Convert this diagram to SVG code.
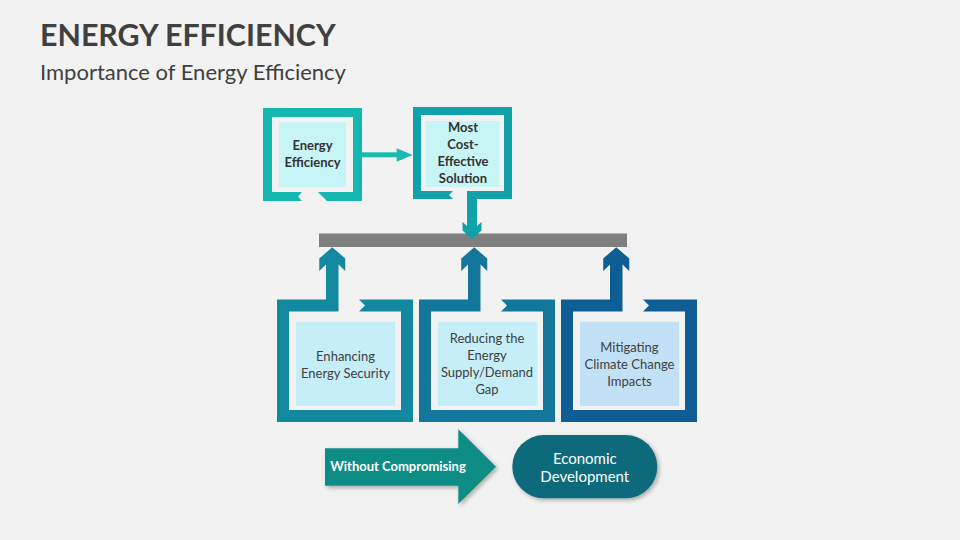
<svg xmlns="http://www.w3.org/2000/svg" width="960" height="540" viewBox="0 0 960 540">
<defs>
<style>
.title{font-family:Lato,"Open Sans","Liberation Sans",sans-serif;font-weight:bold;font-size:30.4px;fill:#404040}
.sub{font-family:Lato,"Open Sans","Liberation Sans",sans-serif;font-size:22px;fill:#404040}
.tb{font-family:Lato,"Open Sans","Liberation Sans",sans-serif;font-weight:bold;font-size:13px;fill:#333333;text-anchor:middle}
.tr{font-family:Lato,"Open Sans","Liberation Sans",sans-serif;font-size:13px;fill:#404040;text-anchor:middle}
.tw{font-family:Lato,"Open Sans","Liberation Sans",sans-serif;font-size:15px;fill:#ffffff;text-anchor:middle}
.twb{font-family:Lato,"Open Sans","Liberation Sans",sans-serif;font-weight:bold;font-size:13px;fill:#ffffff;text-anchor:middle}
</style>
<path id="bframe" d="M61.5,311.5 L12,311.5 L12,410 L124,410 L124,311.5 L82,311.5 L88,305.5 L82,299.5 L136,299.5 L136,422 L0,422 L0,299.5 L49,299.5 L49,264.5 L42.25,271 L42.25,258.5 L55.25,247.3 L68.25,258.5 L68.25,271 L61.5,264.5 Z"/>
<filter id="sh" x="-10%" y="-10%" width="130%" height="140%">
<feDropShadow dx="2" dy="2" stdDeviation="2" flood-color="#000" flood-opacity="0.3"/>
</filter>
</defs>
<rect width="960" height="540" fill="#f2f2f2"/>
<text class="title" x="40" y="46">ENERGY EFFICIENCY</text>
<text class="sub" x="40" y="80">Importance of Energy Efficiency</text>

<g id="connectors">
<rect x="319" y="233.5" width="308" height="13.5" fill="#7f7f7f"/>
<rect x="362" y="152.3" width="36" height="5" fill="#19bbb1"/>
<polygon points="396.7,148.3 412.7,155 396.7,161.7" fill="#19bbb1"/>
</g>

<g id="node-energy-efficiency">
<path d="M327,201 L362,201 L362,108 L263,108 L263,201 L302,201 L298,196.5 L302,192 L272,192 L272,117 L353,117 L353,192 L318,192 Z" fill="#14b8af"/>
<rect x="279" y="122" width="67" height="65" fill="#c7f5f5"/>
<text class="tb" x="312.5" y="150">Energy</text>
<text class="tb" x="312.5" y="167">Efficiency</text>
</g>

<g id="node-cost-effective">
<path d="M467,191 L504,191 L504,115 L421,115 L421,191 L453,191 L449,195 L453,199 L413,199 L413,107 L512,107 L512,199 L477,199 L477,226 L481.5,222 L481.5,230.5 L472,239.5 L462.5,230.5 L462.5,222 L467,226 Z" fill="#11a1a8"/>
<rect x="425.7" y="121" width="73.6" height="66" fill="#c7f5f5"/>
<text class="tb" x="463" y="132.3">Most</text>
<text class="tb" x="463" y="149.1">Cost-</text>
<text class="tb" x="463" y="165.9">Effective</text>
<text class="tb" x="463" y="182.7">Solution</text>
</g>

<g id="node-energy-security">
<use href="#bframe" transform="translate(277,0)" fill="#1289a0"/>
<rect x="296" y="321.7" width="99" height="84.3" fill="#c5eef8"/>
<text class="tr" x="345.5" y="360.5">Enhancing</text>
<text class="tr" x="345.5" y="377.5">Energy Security</text>
</g>

<g id="node-supply-demand">
<use href="#bframe" transform="translate(419,0)" fill="#12779b"/>
<rect x="438" y="321.7" width="99" height="84.3" fill="#c5eef8"/>
<text class="tr" x="487" y="343.3">Reducing the</text>
<text class="tr" x="487" y="360.3">Energy</text>
<text class="tr" x="487" y="377.3">Supply/Demand</text>
<text class="tr" x="487" y="394.3">Gap</text>
</g>

<g id="node-climate">
<use href="#bframe" transform="translate(561,0)" fill="#0e5d94"/>
<rect x="580" y="321.7" width="99" height="84.3" fill="#c2e0f6"/>
<text class="tr" x="629.5" y="352.3">Mitigating</text>
<text class="tr" x="629.5" y="369.3">Climate Change</text>
<text class="tr" x="629.5" y="386.3">Impacts</text>
</g>

<g id="node-without-compromising">
<polygon points="325,448.3 458.3,448.3 458.3,429.3 496,466.7 458.3,504 458.3,485.7 325,485.7" fill="#118d86" filter="url(#sh)"/>
<text class="twb" x="398" y="471">Without Compromising</text>
</g>

<g id="node-economic-development">
<rect x="512.3" y="435" width="145" height="63.3" rx="31.6" fill="#0e6a7a" filter="url(#sh)"/>
<text class="tw" x="584.8" y="463.5">Economic</text>
<text class="tw" x="584.8" y="482">Development</text>
</g>
</svg>
